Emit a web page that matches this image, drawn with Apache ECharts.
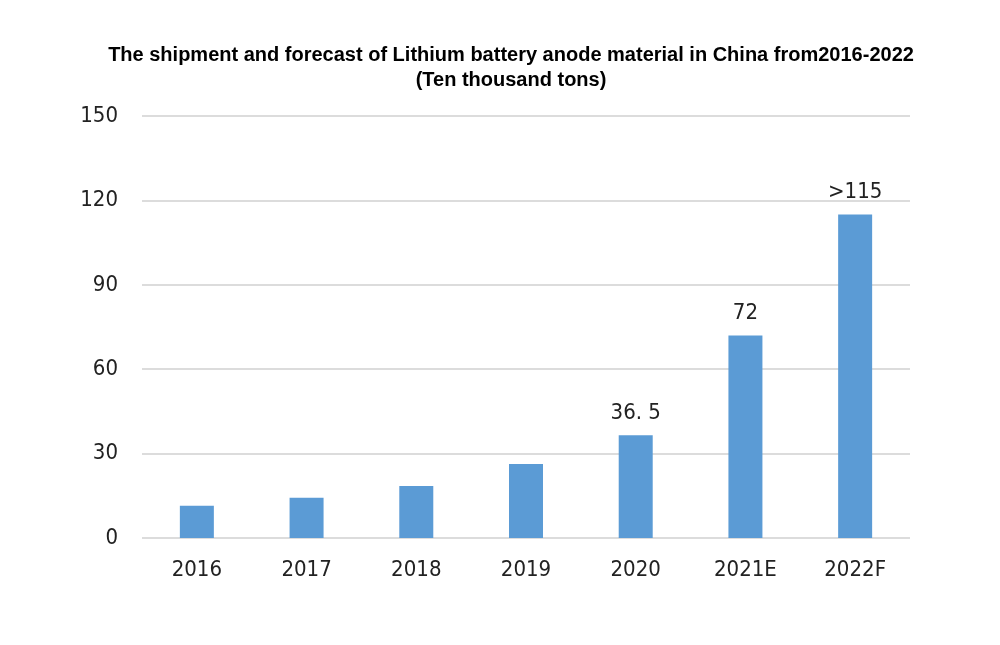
<!DOCTYPE html>
<html>
<head>
    <meta charset="utf-8">
    <title>Anode material shipment</title>
    <script src="https://cdn.jsdelivr.net/npm/echarts@6/dist/echarts.min.js"></script>
</head>
<body style="margin:0;background:#fff;">
    <div id="main" style="width:1000px;height:645px;"></div>
    <script type="text/javascript">
        var years = ['2016', '2017', '2018', '2019', '2020', '2021E', '2022F'];
        var shipment = [11.5, 14.3, 18.5, 26.3, 36.5, 72, 115];
        var barLabels = ['', '', '', '', '36. 5', '72', '>115'];
        var yTicks = [0, 30, 60, 90, 120, 150];

        var myChart = echarts.init(document.getElementById('main'));

        var option = {
            backgroundColor: '#fff',
            title: {
                text: 'The shipment and forecast of Lithium battery anode material in China from2016-2022\n(Ten thousand tons)',
                left: 506,
                textAlign: 'center',
                top: 38,
                textStyle: {
                    fontFamily: 'Liberation Sans',
                    fontSize: 20,
                    fontWeight: 'bold',
                    color: '#000',
                    lineHeight: 25
                }
            },
            grid: {
                left: 142,
                right: 90,
                top: 116,
                bottom: 107
            },
            xAxis: {
                type: 'category',
                data: years,
                axisLine: { show: false },
                axisTick: { show: false },
                axisLabel: {
                    margin: 21,
                    fontSize: 22,
                    color: '#222',
                    fontFamily: 'DejaVu Sans Condensed'
                }
            },
            yAxis: {
                type: 'value',
                min: yTicks[0],
                max: yTicks[yTicks.length - 1],
                interval: 30,
                axisLine: { show: false },
                axisTick: { show: false },
                axisLabel: {
                    margin: 24,
                    fontSize: 22,
                    color: '#222',
                    fontFamily: 'DejaVu Sans Condensed'
                },
                splitLine: {
                    lineStyle: { color: '#dcdcdc', width: 2 }
                }
            },
            series: [{
                type: 'bar',
                barWidth: 34,
                itemStyle: { color: '#5b9bd5' },
                data: shipment.map(function (v, i) {
                    return {
                        value: v,
                        label: {
                            show: barLabels[i] !== '',
                            position: 'top',
                            distance: 11,
                            formatter: barLabels[i],
                            fontSize: 22,
                            color: '#222',
                            fontFamily: 'DejaVu Sans Condensed'
                        }
                    };
                })
            }]
        };

        myChart.setOption(option);
    </script>
</body>
</html>
